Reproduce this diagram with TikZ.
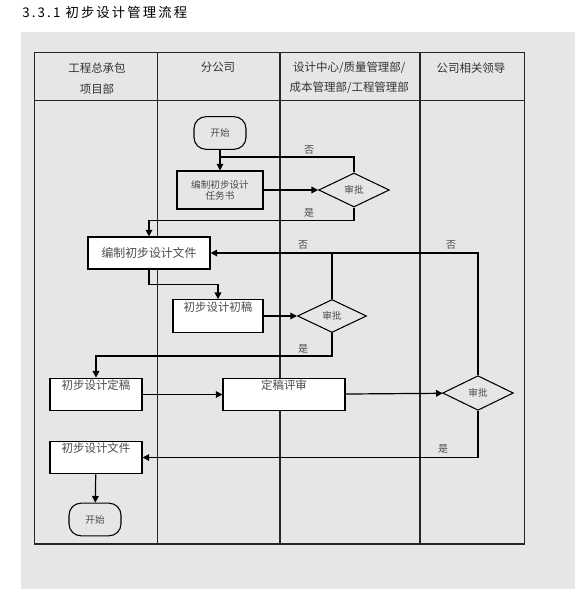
\documentclass[tikz,border=0pt]{standalone}
\usepackage{fontspec}
\newfontfamily\cjk{Noto Sans CJK SC}
\newfontfamily\cjktitle[LetterSpace=16]{Noto Sans CJK SC}
\usetikzlibrary{shapes.geometric,arrows.meta}
\definecolor{bggray}{RGB}{230,230,230}
\definecolor{txtgray}{RGB}{75,75,75}
\tikzset{
  lane/.style={line width=1pt, draw=black!85},
  conn/.style={line width=0.9pt},
  flow/.style={conn, -{Triangle[length=5pt,width=5pt]}},
  termbox/.style={draw, line width=0.8pt, rounded corners=9pt, minimum width=39pt, minimum height=24.5pt, inner sep=0pt, font=\fontsize{7.2}{8}\cjk, text=txtgray},
  taskbox/.style={draw, line width=0.8pt, inner sep=0pt, align=center, font=\fontsize{7.2}{8.3}\cjk, text=txtgray},
  filebox/.style={draw, fill=white, line width=0.8pt, inner sep=0pt, minimum width=91.5pt, minimum height=24pt, font=\fontsize{8.9}{10}\cjk, text=txtgray},
  topbox/.style={draw, fill=white, line width=0.8pt, inner xsep=0pt, inner ysep=0.5pt, text height=8pt, text depth=15.5pt, font=\fontsize{8.6}{10}\cjk, text=txtgray},
  check/.style={diamond, draw, line width=0.8pt, inner sep=0pt, minimum width=53pt, minimum height=25.5pt, font=\fontsize{7.2}{8}\cjk, text=txtgray},
  lbl/.style={font=\fontsize{7.5}{8}\cjk, text=txtgray},
  head/.style={font=\fontsize{8.6}{15.5}\cjk, align=center, text=black!80}
}
\begin{document}
\begin{tikzpicture}[x=0.75pt,y=-0.75pt]
  \useasboundingbox (0,0) rectangle (584,592);

  % Drawing the grey sheet and the title
  \fill[bggray] (20.7,32) rectangle (575,589);
  \node[anchor=west, inner sep=0pt, font=\fontsize{10}{11}\cjktitle] (title) at (22,12) {3.3.1 初步设计管理流程};

  % Drawing the lanes
  \draw[lane] (34.7,52.3) rectangle (524.5,544);
  \draw[lane] (34.7,100.5) -- (524.5,100.5);
  \foreach \x in {157.3,280,420}
    \draw[lane] (\x,52.3) -- (\x,544);

  % Lane headers
  \node[head] (headA) at (97,78.5) {工程总承包\\项目部};
  \node[head] (headB) at (218,67.7) {分公司};
  \node[head] (headC) at (349.3,77.7) {设计中心/质量管理部/\\成本管理部/工程管理部};
  \node[head] (headD) at (471,67.7) {公司相关领导};

  % Steps
  \node[termbox] (start) at (220,133) {开始};
  \node[taskbox, minimum width=64.5pt, minimum height=28.5pt] (task) at (220,190) {编制初步设计\\任务书};
  \node[check] (chk1) at (354,190) {审批};
  \node[filebox] (plan) at (149,253) {编制初步设计文件};
  \node[topbox, minimum width=67.5pt] (draft) at (218,316) {初步设计初稿};
  \node[check, minimum width=51.75pt, minimum height=24.75pt] (chk2) at (332,316) {审批};
  \node[topbox, minimum width=69pt] (final) at (96,394.5) {初步设计定稿};
  \node[topbox, minimum width=91.5pt] (review) at (284,394.5) {定稿评审};
  \node[check, minimum height=26pt] (chk3) at (478,393) {审批};
  \node[topbox, minimum width=69pt] (doc) at (96,457.5) {初步设计文件};
  \node[termbox] (stop) at (95,519.5) {开始};
  \coordinate (merge1) at (220,157);

  % Connectors
  \draw[flow] (start) -- (task);
  \draw[flow] (task) -- (chk1);
  \draw[conn] (chk1.north) |- (merge1);
  \draw[flow] (chk1.south) -- ++(0,13) -| (plan.north);
  \draw[flow] (plan.south) -- ++(0,15) -| (draft.north);
  \draw[flow] (draft) -- (chk2);
  \draw[conn] (chk2.north) -- (chk2.north |- plan.east);
  \draw[flow] (chk2.south) -- ++(0,23) -| (final.north);
  \draw[flow] (final) -- (review);
  \draw[flow] (review) -- (chk3);
  \draw[flow] (chk3.north) |- (plan.east);
  \draw[flow] (chk3.south) |- (doc.east);
  \draw[flow] (doc) -- (stop);

  % Yes / no labels
  \node[lbl] (no1) at (309,150) {否};
  \node[lbl] (yes1) at (309,213) {是};
  \node[lbl] (no2) at (303,245) {否};
  \node[lbl] (yes2) at (303,349) {是};
  \node[lbl] (no3) at (451,245) {否};
  \node[lbl] (yes3) at (443,449) {是};
\end{tikzpicture}
\end{document}
